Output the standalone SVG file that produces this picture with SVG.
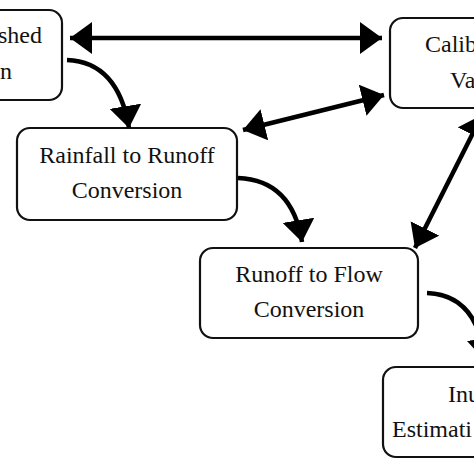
<svg xmlns="http://www.w3.org/2000/svg" width="474" height="474" viewBox="0 0 474 474">
<style>
.box{fill:#fff;stroke:#111;stroke-width:2.2}
.t{font-family:"Liberation Serif","Times New Roman",serif;font-size:24px;fill:#111}
.c{fill:none;stroke:#000;stroke-width:4.5}
</style>
<defs>
<marker id="ah" viewBox="0 0 22 32" refX="22" refY="16" markerWidth="22" markerHeight="32" markerUnits="userSpaceOnUse" orient="auto-start-reverse">
<path d="M0,0 L22,16 L0,32 z" fill="#000"/>
</marker>
</defs>
<rect width="474" height="474" fill="#fff"/>
<g id="n1">
<rect class="box" x="-20" y="10" width="82" height="90" rx="13"/>
<text class="t" x="-2" y="43">shed</text>
<text class="t" x="0" y="79">n</text>
</g>
<g id="n2">
<rect class="box" x="390" y="18" width="110" height="90" rx="13"/>
<text class="t" x="425" y="52">Calib</text>
<text class="t" x="450" y="88">Va</text>
</g>
<g id="n3">
<rect class="box" x="17" y="128" width="220" height="92" rx="13"/>
<text class="t" x="127" y="163" text-anchor="middle">Rainfall to Runoff</text>
<text class="t" x="127" y="198" text-anchor="middle">Conversion</text>
</g>
<g id="n4">
<rect class="box" x="200" y="248" width="218" height="90" rx="13"/>
<text class="t" x="309" y="282" text-anchor="middle">Runoff to Flow</text>
<text class="t" x="309" y="317" text-anchor="middle">Conversion</text>
</g>
<g id="n5">
<rect class="box" x="383" y="367" width="130" height="90" rx="13"/>
<text class="t" x="448" y="402">Inu</text>
<text class="t" x="392" y="437">Estimati</text>
</g>
<g id="connectors">
<path class="c" d="M70,38 L382,38" marker-start="url(#ah)" marker-end="url(#ah)"/>
<path class="c" d="M243,130 L384,95" marker-start="url(#ah)" marker-end="url(#ah)"/>
<path class="c" d="M415,248 L482,115" marker-start="url(#ah)" marker-end="url(#ah)"/>
<path class="c" d="M67,60 Q118,62 129,128" marker-end="url(#ah)"/>
<path class="c" d="M238,178 Q292,180 302,242" marker-end="url(#ah)"/>
<path class="c" d="M427,293 Q478,295 485,361" marker-end="url(#ah)"/>
</g>
</svg>
